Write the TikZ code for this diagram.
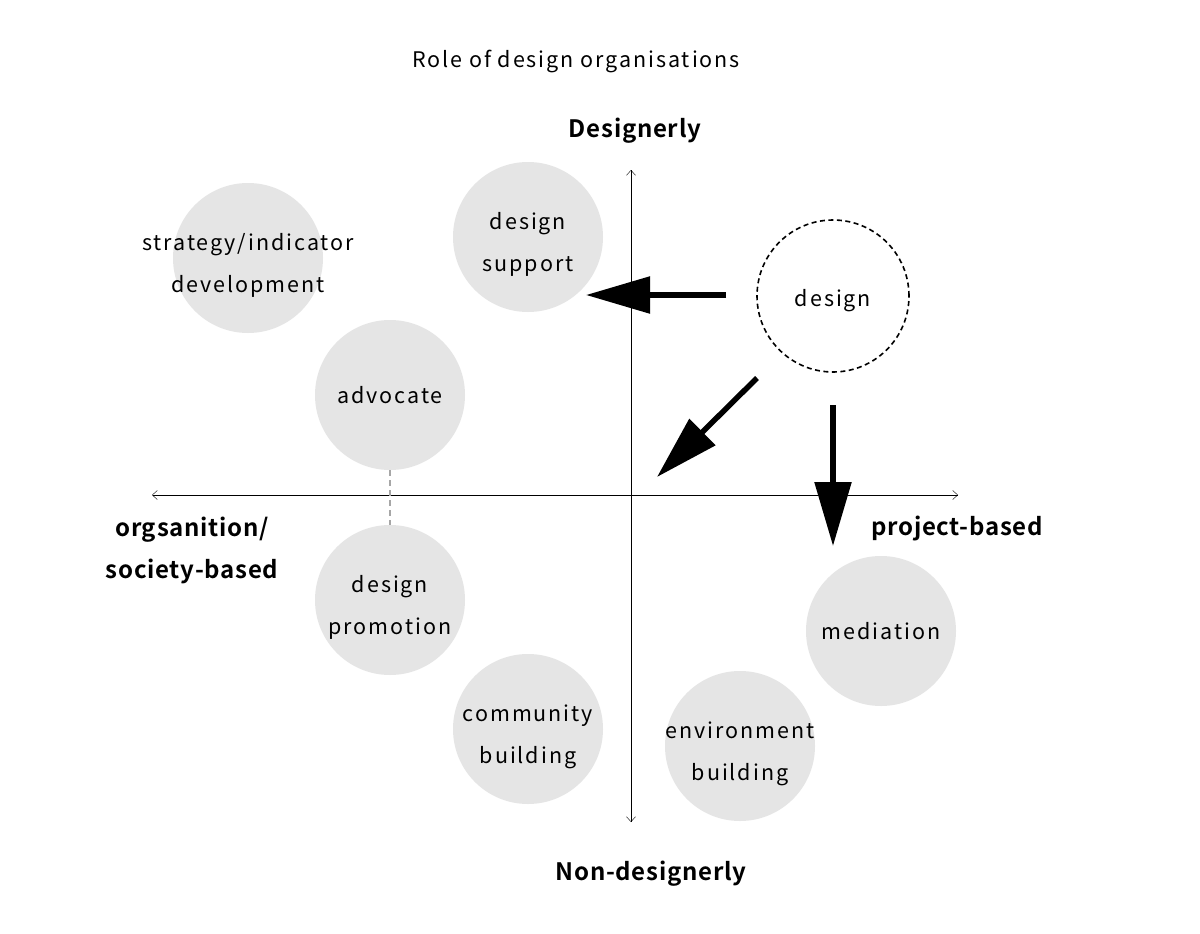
\documentclass[tikz,border=0pt]{standalone}
\usepackage{fontspec}
\setmainfont{Noto Sans CJK JP}[LetterSpace=9]
\newfontfamily\boldlbl{Noto Sans CJK JP Bold}[LetterSpace=3]
\usetikzlibrary{arrows.meta}
\begin{document}
\begin{tikzpicture}[x=1pt,y=-1pt,
  every node/.style={font=\fontsize{21.5}{42}\selectfont,align=center},
  role/.style={circle,fill=black!10,minimum size=150pt,inner sep=0pt,label={[yshift=-7.5pt]center:#1}},
  role/.default={},
  axlabel/.style={font=\boldlbl\fontsize{24}{42}\selectfont},
  axis/.style={thin,{Straight Barb[length=5pt,width=9pt]}-{Straight Barb[length=5pt,width=9pt]}},
  bigarrow/.style={line width=5.5pt,-{Triangle[length=64pt,width=36pt]}}]
  \useasboundingbox[fill=white] (0,0) rectangle (1200,934);
  % axes
  \coordinate (top) at (631,170);
  \coordinate (bottom) at (631,822);
  \coordinate (left) at (152,495);
  \coordinate (right) at (958,495);
  \draw[axis] (top) -- (bottom);
  \draw[axis] (left) -- (right);
  \node (title) at (576,61) {Role of design organisations};
  \node[axlabel] (designerly) at (635,131) {Designerly};
  \node[axlabel] (nondesignerly) at (651,874) {Non-designerly};
  \node[axlabel] (society) at (192,550) {orgsanition/\\society-based};
  \node[axlabel] (project) at (957,529) {project-based};
  % roles
  \node[role={strategy/indicator\\development}] (strategy) at (248,258) {};
  \node[role={design\\support}] (support) at (528,237) {};
  \node[role] (advocate) at (390,395) {advocate};
  \node[role={design\\promotion}] (promotion) at (390,600) {};
  \node[role={community\\building}] (community) at (528,729) {};
  \node[role={environment\\building}] (environment) at (740,746) {};
  \node[role] (mediation) at (881,631) {mediation};
  \node[circle,draw,dash pattern=on 5pt off 3.5pt,line width=1.6pt,minimum size=152pt,inner sep=0pt] (design) at (833,296) {};
  \node (designtext) at (833,301) {design};
  \draw[gray!70,dash pattern=on 6pt off 4pt,line width=1.5pt] (advocate) -- (promotion);
  % moves of design
  \coordinate (tosupport) at (586,295);
  \coordinate (tocentre) at (657,477);
  \coordinate (toproject) at (833,546);
  \draw[bigarrow] (726,295) -- (tosupport);
  \draw[bigarrow] (757,378) -- (tocentre);
  \draw[bigarrow] (833,405) -- (toproject);
\end{tikzpicture}
\end{document}
